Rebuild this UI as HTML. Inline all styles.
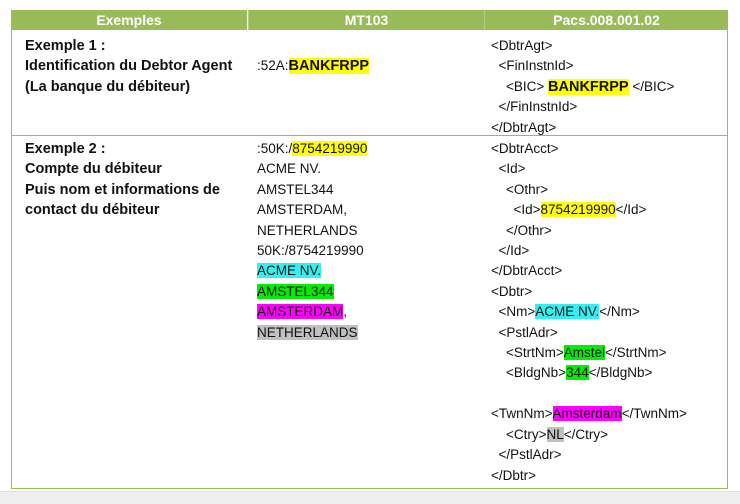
<!DOCTYPE html>
<html><head><meta charset="utf-8"><style>
body{margin:0;width:740px;height:503px;background:#fff;position:relative;overflow:hidden;font-family:"Liberation Sans",sans-serif;font-size:13.5px;color:#111}
.hd{position:absolute;top:10px;height:20px;background:#9bbb59;color:#fff;font-weight:bold;text-align:center;line-height:20px;font-size:14px}
.c{position:absolute;line-height:20.4px;white-space:pre}
.y{background:#ffff00}.cy{background:#33f0f0}.g{background:#00ee00}.m{background:#ff00ff}.gr{background:#c0c0c0}
b{font-weight:bold}
.bl{font-weight:bold;font-size:14.5px}
</style></head><body>
<div class="hd" style="left:11px;width:236px">Exemples</div>
<div class="hd" style="left:248px;width:235px;border-left:1px solid #b5cc85">MT103</div>
<div class="hd" style="left:484px;width:243px;border-left:1px solid #b5cc85">Pacs.008.001.02</div>
<div style="position:absolute;left:11px;top:30px;width:715px;height:458px;border:1px solid #9bbb59;border-top:none"></div>
<div style="position:absolute;left:11px;top:135px;width:716px;height:1px;background:#9bbb59"></div>
<div style="position:absolute;left:0;top:491px;width:740px;height:12px;background:#efefef;border-top:1px solid #ddd"></div>

<div class="c bl" style="left:25px;top:36px">Exemple 1 :
Identification du Debtor Agent
(La banque du débiteur)</div>
<div class="c" style="left:257px;top:56px">:52A:<b class="y" style="font-size:14.5px">BANKFRPP</b></div>
<div class="c" style="left:491px;top:36px">&lt;DbtrAgt&gt;
  &lt;FinInstnId&gt;
    &lt;BIC&gt; <b class="y" style="font-size:14.5px">BANKFRPP</b> &lt;/BIC&gt;
  &lt;/FinInstnId&gt;
&lt;/DbtrAgt&gt;</div>

<div class="c bl" style="left:25px;top:139px">Exemple 2 :
Compte du débiteur
Puis nom et informations de
contact du débiteur</div>
<div class="c" style="left:257px;top:139px">:50K:/<span class="y">8754219990</span>
ACME NV.
AMSTEL344
AMSTERDAM,
NETHERLANDS
50K:/8754219990
<span class="cy">ACME NV.</span>
<span class="g">AMSTEL344</span>
<span class="m">AMSTERDAM</span>,
<span class="gr">NETHERLANDS</span></div>
<div class="c" style="left:491px;top:139px">&lt;DbtrAcct&gt;
  &lt;Id&gt;
    &lt;Othr&gt;
      &lt;Id&gt;<span class="y">8754219990</span>&lt;/Id&gt;
    &lt;/Othr&gt;
  &lt;/Id&gt;
&lt;/DbtrAcct&gt;
&lt;Dbtr&gt;
  &lt;Nm&gt;<span class="cy">ACME NV.</span>&lt;/Nm&gt;
  &lt;PstlAdr&gt;
    &lt;StrtNm&gt;<span class="g">Amstel</span>&lt;/StrtNm&gt;
    &lt;BldgNb&gt;<span class="g">344</span>&lt;/BldgNb&gt;

&lt;TwnNm&gt;<span class="m">Amsterdam</span>&lt;/TwnNm&gt;
    &lt;Ctry&gt;<span class="gr">NL</span>&lt;/Ctry&gt;
  &lt;/PstlAdr&gt;
&lt;/Dbtr&gt;</div>
</body></html>
